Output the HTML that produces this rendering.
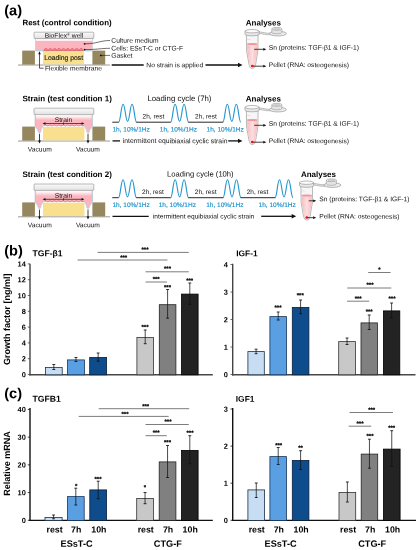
<!DOCTYPE html>
<html lang="en"><head><meta charset="utf-8"><title>Figure</title>
<style>html,body{margin:0;padding:0;background:#fff}svg{display:block}text{font-family:'Liberation Sans', Arial, sans-serif;text-rendering:geometricPrecision}</style>
</head><body>
<svg width="420" height="550" viewBox="0 0 420 550">
<defs>
<linearGradient id="lidg" x1="0" y1="0" x2="0" y2="1"><stop offset="0" stop-color="#fafafa"/><stop offset="1" stop-color="#e2e2e2"/></linearGradient>
<linearGradient id="liq" x1="0" y1="0" x2="1" y2="0"><stop offset="0" stop-color="#f9bcbf"/><stop offset="0.5" stop-color="#fddfe0"/><stop offset="1" stop-color="#f9bcbf"/></linearGradient>
<linearGradient id="pinkg" x1="0" y1="0" x2="0" y2="1"><stop offset="0" stop-color="#ffffff"/><stop offset="0.1" stop-color="#fff3f4"/><stop offset="0.32" stop-color="#fbb5be"/><stop offset="1" stop-color="#fbb5be"/></linearGradient>
</defs>
<rect width="420" height="550" fill="#fff"/>
<text x="4.2" y="15.3" transform="rotate(0.04 4.2 15.3)" font-size="14.6" font-weight="bold" fill="#000">(a)</text>
<text x="4.2" y="255.5" transform="rotate(0.04 4.2 255.5)" font-size="14.6" font-weight="bold" fill="#000">(b)</text>
<text x="4.2" y="398.2" transform="rotate(0.04 4.2 398.2)" font-size="14.6" font-weight="bold" fill="#000">(c)</text>
<text x="22.5" y="25.2" transform="rotate(0.04 22.5 25.2)" font-size="7.92" font-weight="bold" fill="#000">Rest (control condition)</text>
<line x1="18" y1="65" x2="110" y2="65" stroke="#9a9a9a" stroke-width="1"/>
<rect x="22.20" y="50.60" width="12.70" height="14.00" fill="#96875f"/>
<rect x="92.40" y="50.60" width="12.80" height="14.00" fill="#96875f"/>
<rect x="43.00" y="51.30" width="41.00" height="13.00" fill="#f8e08e"/>
<rect x="35.30" y="38.50" width="57.00" height="12.00" fill="#ffffff" stroke="#b0b0b0" stroke-width="0.5"/>
<rect x="35.60" y="40.80" width="56.40" height="9.70" fill="#fbb5be"/>
<line x1="35.3" y1="50.8" x2="92.3" y2="50.8" stroke="#9fd0ea" stroke-width="0.8"/>
<path d="M43.7 50.5 q2.2 -4.4 4.4 0 q2.2 -4.4 4.4 0 q2.2 -4.4 4.4 0 q2.2 -4.4 4.4 0 q2.2 -4.4 4.4 0 q2.2 -4.4 4.4 0 q2.2 -4.4 4.4 0 q2.2 -4.4 4.4 0 q2.2 -4.4 4.4 0 Z" fill="#f0858b" stroke="#e4505a" stroke-width="0.6" stroke-linejoin="round"/>
<rect x="34" y="32.2" width="59.8" height="6.4" rx="0.8" fill="url(#lidg)" stroke="#8c8c8c" stroke-width="0.6"/>
<text x="64" y="37.8" transform="rotate(0.04 64 37.8)" font-size="6.7" text-anchor="middle" fill="#111">BioFlex<tspan font-size="4" dy="-2.2">®</tspan><tspan dy="2.2"> well</tspan></text>
<text x="63.6" y="60.1" transform="rotate(0.04 63.6 60.1)" font-size="6.8" text-anchor="middle" fill="#1a1a1a" stroke="#1a1a1a" stroke-width="0.12">Loading post</text>
<path d="M39.5 53.5 V68.2 H43.5" fill="none" stroke="#111" stroke-width="0.7"/>
<path d="M39.5 51.3 L38.2 54.3 L40.8 54.3 Z" fill="#111"/>
<text x="45" y="70.4" transform="rotate(0.04 45 70.4)" font-size="6.7" fill="#111">Flexible membrane</text>
<text x="111.3" y="42.8" transform="rotate(0.04 111.3 42.8)" font-size="6.7" fill="#111">Culture medium</text>
<text x="111.3" y="50.4" transform="rotate(0.04 111.3 50.4)" font-size="6.7" fill="#111">Cells: ESsT-C or CTG-F</text>
<text x="111.3" y="57.8" transform="rotate(0.04 111.3 57.8)" font-size="6.7" fill="#111">Gasket</text>
<path d="M110 40.5 C100 40.5 97 43.8 85 43.8" fill="none" stroke="#111" stroke-width="0.6"/>
<circle cx="84.6" cy="43.8" r="0.9" fill="#111"/>
<path d="M110 48.3 C101 48.3 97 49.6 85 49.6" fill="none" stroke="#111" stroke-width="0.6"/>
<circle cx="84.6" cy="49.6" r="0.9" fill="#111"/>
<path d="M110 55.4 H101" fill="none" stroke="#111" stroke-width="0.6"/>
<circle cx="100.8" cy="55.4" r="0.9" fill="#111"/>
<line x1="111.7" y1="65" x2="143.7" y2="65" stroke="#111" stroke-width="1.3"/>
<text x="146.3" y="67.2" transform="rotate(0.04 146.3 67.2)" font-size="6.7" fill="#111">No strain is applied</text>
<line x1="205.5" y1="65" x2="238.5" y2="65" stroke="#111" stroke-width="1.3"/>
<path d="M242.5 65 L238.0 62.8 L238.0 67.2 Z" fill="#111"/>
<g transform="translate(0 0)">
<path d="M258.6 31.8 C263 32.2 266 33.5 270.4 33.2 L270.4 34.8 C266 35 263 33.8 258.6 33.4 Z" fill="#e6e6e6" stroke="#8a8a8a" stroke-width="0.5"/>
<ellipse cx="277.9" cy="33.6" rx="8.5" ry="2.35" fill="#ececec" stroke="#8a8a8a" stroke-width="0.6"/>
<path d="M271.8 28.8 V32.4 A5.05 1.5 0 0 0 281.9 32.4 V28.8 Z" fill="#e4e4e4" stroke="#8a8a8a" stroke-width="0.5"/>
<ellipse cx="276.85" cy="28.8" rx="5.05" ry="1.45" fill="#f4f4f4" stroke="#8a8a8a" stroke-width="0.5"/>
<ellipse cx="276.85" cy="28.9" rx="3.3" ry="0.75" fill="#dcdcdc" stroke="#9a9a9a" stroke-width="0.35"/>
<path d="M246.4 34 L246.6 51 L249 64.6 Q249.7 68.7 252.3 68.7 Q254.9 68.7 255.6 64.6 L257.9 51 L258.1 34 Z" fill="#f6f6f6" stroke="#9d9d9d" stroke-width="0.7"/>
<path d="M247.1 43.8 L247.2 51 L249.6 64.5 Q250.2 68.1 252.3 68.1 Q254.4 68.1 255 64.5 L257.3 51 L257.4 43.8 Z" fill="url(#liq)"/>
<ellipse cx="252.25" cy="44" rx="5.15" ry="1" fill="#f3959a"/>
<path d="M247.3 39.5 h3 M247.3 47.5 h2.6 M247.8 53.5 h2.2" stroke="#c4c4c4" stroke-width="0.4"/>
<path d="M245 31.2 V34.2 A7.05 1.6 0 0 0 259.1 34.2 V31.2 Z" fill="#e9e9e9" stroke="#8a8a8a" stroke-width="0.6"/>
<ellipse cx="252.05" cy="31.2" rx="7.05" ry="1.7" fill="#fbfbfb" stroke="#8a8a8a" stroke-width="0.6"/>
<circle cx="252.3" cy="66" r="1.35" fill="#e3141c"/>
<line x1="254.2" y1="49.3" x2="264.0" y2="49.3" stroke="#111" stroke-width="0.8"/>
<path d="M266.3 49.3 L263.3 47.9 L263.3 50.699999999999996 Z" fill="#111"/>
<line x1="253.2" y1="66.2" x2="264.0" y2="66.2" stroke="#111" stroke-width="0.8"/>
<path d="M266.3 66.2 L263.3 64.8 L263.3 67.60000000000001 Z" fill="#111"/>
<text x="268.7" y="49.8" transform="rotate(0.04 268.7 49.8)" font-size="6.7" fill="#111">Sn (proteins: TGF-β1 &amp; IGF-1)</text>
<text x="268.7" y="67.1" transform="rotate(0.04 268.7 67.1)" font-size="6.7" fill="#111">Pellet (RNA: osteogenesis)</text>
<text x="245.8" y="25.5" transform="rotate(0.04 245.8 25.5)" font-size="8" font-weight="bold" fill="#000">Analyses</text>
</g>
<text x="22.5" y="101.2" transform="rotate(0.04 22.5 101.2)" font-size="8" font-weight="bold" fill="#000">Strain (test condition 1)</text>
<line x1="18" y1="141.0" x2="110" y2="141.0" stroke="#9a9a9a" stroke-width="1"/>
<rect x="22.20" y="126.60" width="12.70" height="14.00" fill="#96875f"/>
<rect x="92.40" y="126.60" width="12.80" height="14.00" fill="#96875f"/>
<rect x="43.00" y="126.90" width="41.40" height="13.40" fill="#f8e08e"/>
<path d="M35.4 114.4 L92.1 114.4 L92.1 126.30 C92 128.50 90 128.80 89.5 131.00 C89.1 133.70 87 133.70 86.6 131.00 C86.2 128.80 85.3 127.80 84.6 126.60 Q84.3 125.60 83.2 125.60 L44.3 125.60 Q43.2 125.60 42.9 126.60 C42.2 127.80 41.3 128.80 40.9 131.00 C40.5 133.70 38.4 133.70 38 131.00 C37.5 128.80 35.5 128.50 35.4 126.30 Z" fill="url(#pinkg)" stroke="#a9d9ef" stroke-width="0.8"/>
<rect x="35.00" y="113.90" width="57.50" height="1.20" fill="#ffffff"/>
<line x1="35.2" y1="114.4" x2="35.2" y2="126.3" stroke="#a8a8a8" stroke-width="0.5"/>
<line x1="92.3" y1="114.4" x2="92.3" y2="126.3" stroke="#a8a8a8" stroke-width="0.5"/>
<path d="M44.5 125.50 q1.1 -1.3 2.2 0 q1.1 0.9 2.2 0 q1.1 -1.3 2.2 0 q1.1 0.9 2.2 0 q1.1 -1.3 2.2 0 q1.1 0.9 2.2 0 q1.1 -1.3 2.2 0 q1.1 0.9 2.2 0 q1.1 -1.3 2.2 0 q1.1 0.9 2.2 0 q1.1 -1.3 2.2 0 q1.1 0.9 2.2 0 q1.1 -1.3 2.2 0 q1.1 0.9 2.2 0 q1.1 -1.3 2.2 0 q1.1 0.9 2.2 0 q1.1 -1.3 2.2 0 q1.1 0.9 2.2 0" fill="none" stroke="#ea4a55" stroke-width="0.6"/>
<rect x="34" y="108.2" width="59.8" height="6.4" rx="0.8" fill="url(#lidg)" stroke="#8c8c8c" stroke-width="0.6"/>
<text x="63.5" y="121.9" transform="rotate(0.04 63.5 121.9)" font-size="6.7" text-anchor="middle" fill="#111">Strain</text>
<line x1="44" y1="123.5" x2="83" y2="123.5" stroke="#111" stroke-width="0.7"/>
<path d="M42.6 123.5 L45.4 122.2 L45.4 124.8 Z M84.4 123.5 L81.6 122.2 L81.6 124.8 Z" fill="#111"/>
<path d="M63.5 122.3 V124.7" stroke="#111" stroke-width="0.6"/>
<line x1="39.5" y1="133.8" x2="39.5" y2="141.5" stroke="#111" stroke-width="0.8"/>
<path d="M39.5 143.6 L38.1 140.6 L40.9 140.6 Z" fill="#111"/>
<line x1="88" y1="133.8" x2="88" y2="141.5" stroke="#111" stroke-width="0.8"/>
<path d="M88 143.6 L86.6 140.6 L89.4 140.6 Z" fill="#111"/>
<text x="39.8" y="151.5" transform="rotate(0.04 39.8 151.5)" font-size="6.7" text-anchor="middle" fill="#111">Vacuum</text>
<text x="87.9" y="151.5" transform="rotate(0.04 87.9 151.5)" font-size="6.7" text-anchor="middle" fill="#111">Vacuum</text>
<line x1="112.3" y1="122.2" x2="118.89999999999999" y2="122.2" stroke="#111" stroke-width="0.9"/>
<path d="M118.60 122.20 C120.65 122.20 121.05 104.20 123.10 104.20 C125.15 104.20 125.55 121.30 127.60 121.30 C129.65 121.30 130.05 104.20 132.10 104.20 C134.15 104.20 134.55 122.20 136.60 122.20" fill="none" stroke="#2597cf" stroke-width="1.15" stroke-linejoin="round"/>
<line x1="136.29999999999998" y1="122.2" x2="170.9" y2="122.2" stroke="#111" stroke-width="0.9"/>
<path d="M170.60 122.20 C172.65 122.20 173.05 104.20 175.10 104.20 C177.15 104.20 177.55 121.30 179.60 121.30 C181.65 121.30 182.05 104.20 184.10 104.20 C186.15 104.20 186.55 122.20 188.60 122.20" fill="none" stroke="#2597cf" stroke-width="1.15" stroke-linejoin="round"/>
<line x1="188.29999999999998" y1="122.2" x2="223.10000000000002" y2="122.2" stroke="#111" stroke-width="0.9"/>
<path d="M222.80 122.20 C224.85 122.20 225.25 104.20 227.30 104.20 C229.35 104.20 229.75 121.30 231.80 121.30 C233.85 121.30 234.25 104.20 236.30 104.20 C238.35 104.20 238.75 122.20 240.80 122.20" fill="none" stroke="#2597cf" stroke-width="1.15" stroke-linejoin="round"/>
<text x="147.4" y="100.9" transform="rotate(0.04 147.4 100.9)" font-size="7.85" fill="#111">Loading cycle (7h)</text>
<text x="153.4" y="118.4" transform="rotate(0.04 153.4 118.4)" font-size="6.5" text-anchor="middle" fill="#111">2h, rest</text>
<text x="205.9" y="118.4" transform="rotate(0.04 205.9 118.4)" font-size="6.5" text-anchor="middle" fill="#111">2h, rest</text>
<text x="112.5" y="131.6" transform="rotate(0.04 112.5 131.6)" font-size="6.5" fill="#1b8fca" stroke="#1b8fca" stroke-width="0.15">1h, 10%/1Hz</text>
<text x="159.8" y="131.6" transform="rotate(0.04 159.8 131.6)" font-size="6.5" fill="#1b8fca" stroke="#1b8fca" stroke-width="0.15">1h, 10%/1Hz</text>
<text x="206.6" y="131.6" transform="rotate(0.04 206.6 131.6)" font-size="6.5" fill="#1b8fca" stroke="#1b8fca" stroke-width="0.15">1h, 10%/1Hz</text>
<line x1="112.5" y1="140.9" x2="120" y2="140.9" stroke="#111" stroke-width="1.3"/>
<text x="122.8" y="143.1" transform="rotate(0.04 122.8 143.1)" font-size="6.8" fill="#111">intermittent equibiaxial cyclic strain</text>
<line x1="228.2" y1="140.9" x2="238.5" y2="140.9" stroke="#111" stroke-width="1.3"/>
<path d="M242.5 140.9 L238.0 138.70000000000002 L238.0 143.1 Z" fill="#111"/>
<g transform="translate(0 76.0)">
<path d="M258.6 31.8 C263 32.2 266 33.5 270.4 33.2 L270.4 34.8 C266 35 263 33.8 258.6 33.4 Z" fill="#e6e6e6" stroke="#8a8a8a" stroke-width="0.5"/>
<ellipse cx="277.9" cy="33.6" rx="8.5" ry="2.35" fill="#ececec" stroke="#8a8a8a" stroke-width="0.6"/>
<path d="M271.8 28.8 V32.4 A5.05 1.5 0 0 0 281.9 32.4 V28.8 Z" fill="#e4e4e4" stroke="#8a8a8a" stroke-width="0.5"/>
<ellipse cx="276.85" cy="28.8" rx="5.05" ry="1.45" fill="#f4f4f4" stroke="#8a8a8a" stroke-width="0.5"/>
<ellipse cx="276.85" cy="28.9" rx="3.3" ry="0.75" fill="#dcdcdc" stroke="#9a9a9a" stroke-width="0.35"/>
<path d="M246.4 34 L246.6 51 L249 64.6 Q249.7 68.7 252.3 68.7 Q254.9 68.7 255.6 64.6 L257.9 51 L258.1 34 Z" fill="#f6f6f6" stroke="#9d9d9d" stroke-width="0.7"/>
<path d="M247.1 43.8 L247.2 51 L249.6 64.5 Q250.2 68.1 252.3 68.1 Q254.4 68.1 255 64.5 L257.3 51 L257.4 43.8 Z" fill="url(#liq)"/>
<ellipse cx="252.25" cy="44" rx="5.15" ry="1" fill="#f3959a"/>
<path d="M247.3 39.5 h3 M247.3 47.5 h2.6 M247.8 53.5 h2.2" stroke="#c4c4c4" stroke-width="0.4"/>
<path d="M245 31.2 V34.2 A7.05 1.6 0 0 0 259.1 34.2 V31.2 Z" fill="#e9e9e9" stroke="#8a8a8a" stroke-width="0.6"/>
<ellipse cx="252.05" cy="31.2" rx="7.05" ry="1.7" fill="#fbfbfb" stroke="#8a8a8a" stroke-width="0.6"/>
<circle cx="252.3" cy="66" r="1.35" fill="#e3141c"/>
<line x1="254.2" y1="49.3" x2="264.0" y2="49.3" stroke="#111" stroke-width="0.8"/>
<path d="M266.3 49.3 L263.3 47.9 L263.3 50.699999999999996 Z" fill="#111"/>
<line x1="253.2" y1="66.2" x2="264.0" y2="66.2" stroke="#111" stroke-width="0.8"/>
<path d="M266.3 66.2 L263.3 64.8 L263.3 67.60000000000001 Z" fill="#111"/>
<text x="268.7" y="49.8" transform="rotate(0.04 268.7 49.8)" font-size="6.7" fill="#111">Sn (proteins: TGF-β1 &amp; IGF-1)</text>
<text x="268.7" y="67.1" transform="rotate(0.04 268.7 67.1)" font-size="6.7" fill="#111">Pellet (RNA: osteogenesis)</text>
<text x="245.8" y="25.5" transform="rotate(0.04 245.8 25.5)" font-size="8" font-weight="bold" fill="#000">Analyses</text>
</g>
<text x="22.5" y="176.9" transform="rotate(0.04 22.5 176.9)" font-size="8" font-weight="bold" fill="#000">Strain (test condition 2)</text>
<line x1="18" y1="216.8" x2="110" y2="216.8" stroke="#9a9a9a" stroke-width="1"/>
<rect x="22.20" y="202.40" width="12.70" height="14.00" fill="#96875f"/>
<rect x="92.40" y="202.40" width="12.80" height="14.00" fill="#96875f"/>
<rect x="43.00" y="202.70" width="41.40" height="13.40" fill="#f8e08e"/>
<path d="M35.4 190.20000000000002 L92.1 190.20000000000002 L92.1 202.10 C92 204.30 90 204.60 89.5 206.80 C89.1 209.50 87 209.50 86.6 206.80 C86.2 204.60 85.3 203.60 84.6 202.40 Q84.3 201.40 83.2 201.40 L44.3 201.40 Q43.2 201.40 42.9 202.40 C42.2 203.60 41.3 204.60 40.9 206.80 C40.5 209.50 38.4 209.50 38 206.80 C37.5 204.60 35.5 204.30 35.4 202.10 Z" fill="url(#pinkg)" stroke="#a9d9ef" stroke-width="0.8"/>
<rect x="35.00" y="189.70" width="57.50" height="1.20" fill="#ffffff"/>
<line x1="35.2" y1="190.20000000000002" x2="35.2" y2="202.10000000000002" stroke="#a8a8a8" stroke-width="0.5"/>
<line x1="92.3" y1="190.20000000000002" x2="92.3" y2="202.10000000000002" stroke="#a8a8a8" stroke-width="0.5"/>
<path d="M44.5 201.30 q1.1 -1.3 2.2 0 q1.1 0.9 2.2 0 q1.1 -1.3 2.2 0 q1.1 0.9 2.2 0 q1.1 -1.3 2.2 0 q1.1 0.9 2.2 0 q1.1 -1.3 2.2 0 q1.1 0.9 2.2 0 q1.1 -1.3 2.2 0 q1.1 0.9 2.2 0 q1.1 -1.3 2.2 0 q1.1 0.9 2.2 0 q1.1 -1.3 2.2 0 q1.1 0.9 2.2 0 q1.1 -1.3 2.2 0 q1.1 0.9 2.2 0 q1.1 -1.3 2.2 0 q1.1 0.9 2.2 0" fill="none" stroke="#ea4a55" stroke-width="0.6"/>
<rect x="34" y="184.0" width="59.8" height="6.4" rx="0.8" fill="url(#lidg)" stroke="#8c8c8c" stroke-width="0.6"/>
<text x="63.5" y="197.70000000000002" transform="rotate(0.04 63.5 197.70000000000002)" font-size="6.7" text-anchor="middle" fill="#111">Strain</text>
<line x1="44" y1="199.3" x2="83" y2="199.3" stroke="#111" stroke-width="0.7"/>
<path d="M42.6 199.3 L45.4 198.0 L45.4 200.60000000000002 Z M84.4 199.3 L81.6 198.0 L81.6 200.60000000000002 Z" fill="#111"/>
<path d="M63.5 198.10000000000002 V200.5" stroke="#111" stroke-width="0.6"/>
<line x1="39.5" y1="209.60000000000002" x2="39.5" y2="217.3" stroke="#111" stroke-width="0.8"/>
<path d="M39.5 219.4 L38.1 216.4 L40.9 216.4 Z" fill="#111"/>
<line x1="88" y1="209.60000000000002" x2="88" y2="217.3" stroke="#111" stroke-width="0.8"/>
<path d="M88 219.4 L86.6 216.4 L89.4 216.4 Z" fill="#111"/>
<text x="39.8" y="227.3" transform="rotate(0.04 39.8 227.3)" font-size="6.7" text-anchor="middle" fill="#111">Vacuum</text>
<text x="87.9" y="227.3" transform="rotate(0.04 87.9 227.3)" font-size="6.7" text-anchor="middle" fill="#111">Vacuum</text>
<line x1="112.3" y1="197.7" x2="118.8" y2="197.7" stroke="#111" stroke-width="0.9"/>
<path d="M118.50 197.70 C120.55 197.70 120.95 179.70 123.00 179.70 C125.05 179.70 125.45 196.80 127.50 196.80 C129.55 196.80 129.95 179.70 132.00 179.70 C134.05 179.70 134.45 197.70 136.50 197.70" fill="none" stroke="#2597cf" stroke-width="1.15" stroke-linejoin="round"/>
<line x1="136.2" y1="197.7" x2="170.9" y2="197.7" stroke="#111" stroke-width="0.9"/>
<path d="M170.60 197.70 C172.65 197.70 173.05 179.70 175.10 179.70 C177.15 179.70 177.55 196.80 179.60 196.80 C181.65 196.80 182.05 179.70 184.10 179.70 C186.15 179.70 186.55 197.70 188.60 197.70" fill="none" stroke="#2597cf" stroke-width="1.15" stroke-linejoin="round"/>
<line x1="188.29999999999998" y1="197.7" x2="223.3" y2="197.7" stroke="#111" stroke-width="0.9"/>
<path d="M223.00 197.70 C225.05 197.70 225.45 179.70 227.50 179.70 C229.55 179.70 229.95 196.80 232.00 196.80 C234.05 196.80 234.45 179.70 236.50 179.70 C238.55 179.70 238.95 197.70 241.00 197.70" fill="none" stroke="#2597cf" stroke-width="1.15" stroke-linejoin="round"/>
<line x1="240.7" y1="197.7" x2="275.3" y2="197.7" stroke="#111" stroke-width="0.9"/>
<path d="M275.00 197.70 C277.05 197.70 277.45 179.70 279.50 179.70 C281.55 179.70 281.95 196.80 284.00 196.80 C286.05 196.80 286.45 179.70 288.50 179.70 C290.55 179.70 290.95 197.70 293.00 197.70" fill="none" stroke="#2597cf" stroke-width="1.15" stroke-linejoin="round"/>
<text x="167.1" y="176.4" transform="rotate(0.04 167.1 176.4)" font-size="7.63" fill="#111">Loading cycle (10h)</text>
<text x="152.9" y="193.9" transform="rotate(0.04 152.9 193.9)" font-size="6.5" text-anchor="middle" fill="#111">2h, rest</text>
<text x="205.7" y="193.9" transform="rotate(0.04 205.7 193.9)" font-size="6.5" text-anchor="middle" fill="#111">2h, rest</text>
<text x="257.5" y="193.9" transform="rotate(0.04 257.5 193.9)" font-size="6.5" text-anchor="middle" fill="#111">2h, rest</text>
<text x="112.5" y="207.1" transform="rotate(0.04 112.5 207.1)" font-size="6.5" fill="#1b8fca" stroke="#1b8fca" stroke-width="0.15">1h, 10%/1Hz</text>
<text x="158.7" y="207.1" transform="rotate(0.04 158.7 207.1)" font-size="6.5" fill="#1b8fca" stroke="#1b8fca" stroke-width="0.15">1h, 10%/1Hz</text>
<text x="206.2" y="207.1" transform="rotate(0.04 206.2 207.1)" font-size="6.5" fill="#1b8fca" stroke="#1b8fca" stroke-width="0.15">1h, 10%/1Hz</text>
<text x="258.6" y="207.1" transform="rotate(0.04 258.6 207.1)" font-size="6.5" fill="#1b8fca" stroke="#1b8fca" stroke-width="0.15">1h, 10%/1Hz</text>
<line x1="112.5" y1="216.3" x2="148.7" y2="216.3" stroke="#111" stroke-width="1.3"/>
<text x="152.9" y="218.5" transform="rotate(0.04 152.9 218.5)" font-size="6.6" fill="#111">intermittent equibiaxial cyclic strain</text>
<line x1="261.2" y1="216.3" x2="292.2" y2="216.3" stroke="#111" stroke-width="1.3"/>
<path d="M296.2 216.3 L291.7 214.10000000000002 L291.7 218.5 Z" fill="#111"/>
<g transform="translate(54.5 151.5)">
<path d="M258.6 31.8 C263 32.2 266 33.5 270.4 33.2 L270.4 34.8 C266 35 263 33.8 258.6 33.4 Z" fill="#e6e6e6" stroke="#8a8a8a" stroke-width="0.5"/>
<ellipse cx="277.9" cy="33.6" rx="8.5" ry="2.35" fill="#ececec" stroke="#8a8a8a" stroke-width="0.6"/>
<path d="M271.8 28.8 V32.4 A5.05 1.5 0 0 0 281.9 32.4 V28.8 Z" fill="#e4e4e4" stroke="#8a8a8a" stroke-width="0.5"/>
<ellipse cx="276.85" cy="28.8" rx="5.05" ry="1.45" fill="#f4f4f4" stroke="#8a8a8a" stroke-width="0.5"/>
<ellipse cx="276.85" cy="28.9" rx="3.3" ry="0.75" fill="#dcdcdc" stroke="#9a9a9a" stroke-width="0.35"/>
<path d="M246.4 34 L246.6 51 L249 64.6 Q249.7 68.7 252.3 68.7 Q254.9 68.7 255.6 64.6 L257.9 51 L258.1 34 Z" fill="#f6f6f6" stroke="#9d9d9d" stroke-width="0.7"/>
<path d="M247.1 43.8 L247.2 51 L249.6 64.5 Q250.2 68.1 252.3 68.1 Q254.4 68.1 255 64.5 L257.3 51 L257.4 43.8 Z" fill="url(#liq)"/>
<ellipse cx="252.25" cy="44" rx="5.15" ry="1" fill="#f3959a"/>
<path d="M247.3 39.5 h3 M247.3 47.5 h2.6 M247.8 53.5 h2.2" stroke="#c4c4c4" stroke-width="0.4"/>
<path d="M245 31.2 V34.2 A7.05 1.6 0 0 0 259.1 34.2 V31.2 Z" fill="#e9e9e9" stroke="#8a8a8a" stroke-width="0.6"/>
<ellipse cx="252.05" cy="31.2" rx="7.05" ry="1.7" fill="#fbfbfb" stroke="#8a8a8a" stroke-width="0.6"/>
<circle cx="252.3" cy="66" r="1.35" fill="#e3141c"/>
<line x1="254.2" y1="49.3" x2="259.4" y2="49.3" stroke="#111" stroke-width="0.8"/>
<path d="M261.7 49.3 L258.7 47.9 L258.7 50.699999999999996 Z" fill="#111"/>
<line x1="253.2" y1="66.2" x2="259.4" y2="66.2" stroke="#111" stroke-width="0.8"/>
<path d="M261.7 66.2 L258.7 64.8 L258.7 67.60000000000001 Z" fill="#111"/>
<text x="264.7" y="49.8" transform="rotate(0.04 264.7 49.8)" font-size="6.7" fill="#111">Sn (proteins: TGF-β1 &amp; IGF-1)</text>
<text x="264.7" y="67.1" transform="rotate(0.04 264.7 67.1)" font-size="6.7" fill="#111">Pellet (RNA: osteogenesis)</text>
<text x="246.4" y="25.5" transform="rotate(0.04 246.4 25.5)" font-size="8" font-weight="bold" fill="#000">Analyses</text>
</g>
<text x="32.5" y="256.3" transform="rotate(0.04 32.5 256.3)" font-size="8.6" font-weight="bold" fill="#000">TGF-β1</text>
<line x1="30" y1="263.8" x2="30" y2="375.5" stroke="#444" stroke-width="1.4"/>
<line x1="27.8" y1="374.5" x2="30" y2="374.5" stroke="#444" stroke-width="0.8"/>
<text x="25.8" y="377.15" transform="rotate(0.04 25.8 377.15)" font-size="7.4" font-weight="bold" text-anchor="end" fill="#000">0</text>
<line x1="27.8" y1="358.7" x2="30" y2="358.7" stroke="#444" stroke-width="0.8"/>
<text x="25.8" y="361.34999999999997" transform="rotate(0.04 25.8 361.34999999999997)" font-size="7.4" font-weight="bold" text-anchor="end" fill="#000">2</text>
<line x1="27.8" y1="342.9" x2="30" y2="342.9" stroke="#444" stroke-width="0.8"/>
<text x="25.8" y="345.54999999999995" transform="rotate(0.04 25.8 345.54999999999995)" font-size="7.4" font-weight="bold" text-anchor="end" fill="#000">4</text>
<line x1="27.8" y1="327.1" x2="30" y2="327.1" stroke="#444" stroke-width="0.8"/>
<text x="25.8" y="329.75" transform="rotate(0.04 25.8 329.75)" font-size="7.4" font-weight="bold" text-anchor="end" fill="#000">6</text>
<line x1="27.8" y1="311.3" x2="30" y2="311.3" stroke="#444" stroke-width="0.8"/>
<text x="25.8" y="313.95" transform="rotate(0.04 25.8 313.95)" font-size="7.4" font-weight="bold" text-anchor="end" fill="#000">8</text>
<line x1="27.8" y1="295.5" x2="30" y2="295.5" stroke="#444" stroke-width="0.8"/>
<text x="25.8" y="298.15" transform="rotate(0.04 25.8 298.15)" font-size="7.4" font-weight="bold" text-anchor="end" fill="#000">10</text>
<line x1="27.8" y1="279.7" x2="30" y2="279.7" stroke="#444" stroke-width="0.8"/>
<text x="25.8" y="282.34999999999997" transform="rotate(0.04 25.8 282.34999999999997)" font-size="7.4" font-weight="bold" text-anchor="end" fill="#000">12</text>
<line x1="27.8" y1="263.9" x2="30" y2="263.9" stroke="#444" stroke-width="0.8"/>
<text x="25.8" y="266.54999999999995" transform="rotate(0.04 25.8 266.54999999999995)" font-size="7.4" font-weight="bold" text-anchor="end" fill="#000">14</text>
<line x1="29.3" y1="374.8" x2="212.8" y2="374.8" stroke="#484848" stroke-width="1.4"/>
<rect x="45.40" y="367.40" width="16.80" height="7.40" fill="#c7ddf3" stroke="#1f2f44" stroke-width="0.8"/>
<line x1="53.8" y1="364.5" x2="53.8" y2="369.5" stroke="#111" stroke-width="0.75"/>
<line x1="52.349999999999994" y1="364.5" x2="55.25" y2="364.5" stroke="#111" stroke-width="0.85"/>
<line x1="52.349999999999994" y1="369.5" x2="55.25" y2="369.5" stroke="#111" stroke-width="0.85"/>
<rect x="67.50" y="359.90" width="16.90" height="14.90" fill="#5a9fe2" stroke="#17365c" stroke-width="0.8"/>
<line x1="75.94999999999999" y1="357.5" x2="75.94999999999999" y2="361.5" stroke="#111" stroke-width="0.75"/>
<line x1="74.49999999999999" y1="357.5" x2="77.39999999999999" y2="357.5" stroke="#111" stroke-width="0.85"/>
<line x1="74.49999999999999" y1="361.5" x2="77.39999999999999" y2="361.5" stroke="#111" stroke-width="0.85"/>
<rect x="89.70" y="357.40" width="16.90" height="17.40" fill="#0f4c8c" stroke="#06203f" stroke-width="0.8"/>
<line x1="98.15" y1="353" x2="98.15" y2="361.2" stroke="#111" stroke-width="0.75"/>
<line x1="96.7" y1="353" x2="99.60000000000001" y2="353" stroke="#111" stroke-width="0.85"/>
<line x1="96.7" y1="361.2" x2="99.60000000000001" y2="361.2" stroke="#111" stroke-width="0.85"/>
<rect x="136.90" y="337.40" width="16.60" height="37.40" fill="#c8c8c8" stroke="#333" stroke-width="0.8"/>
<line x1="145.2" y1="330" x2="145.2" y2="343.7" stroke="#111" stroke-width="0.75"/>
<line x1="143.75" y1="330" x2="146.64999999999998" y2="330" stroke="#111" stroke-width="0.85"/>
<line x1="143.75" y1="343.7" x2="146.64999999999998" y2="343.7" stroke="#111" stroke-width="0.85"/>
<rect x="159.30" y="304.70" width="16.60" height="70.10" fill="#808080" stroke="#222" stroke-width="0.8"/>
<line x1="167.60000000000002" y1="289.5" x2="167.60000000000002" y2="318.2" stroke="#111" stroke-width="0.75"/>
<line x1="166.15000000000003" y1="289.5" x2="169.05" y2="289.5" stroke="#111" stroke-width="0.85"/>
<line x1="166.15000000000003" y1="318.2" x2="169.05" y2="318.2" stroke="#111" stroke-width="0.85"/>
<rect x="181.50" y="294.10" width="16.60" height="80.70" fill="#232323" stroke="#000" stroke-width="0.8"/>
<line x1="189.8" y1="283" x2="189.8" y2="304.3" stroke="#111" stroke-width="0.75"/>
<line x1="188.35000000000002" y1="283" x2="191.25" y2="283" stroke="#111" stroke-width="0.85"/>
<line x1="188.35000000000002" y1="304.3" x2="191.25" y2="304.3" stroke="#111" stroke-width="0.85"/>
<line x1="97.5" y1="252.4" x2="188.8" y2="252.4" stroke="#7d7d7d" stroke-width="1"/>
<text x="145" y="251.6" transform="rotate(0.04 145 251.6)" font-size="6" font-weight="bold" text-anchor="middle" fill="#000" stroke="#000" stroke-width="0.25">***</text>
<line x1="77.5" y1="260" x2="167.5" y2="260" stroke="#7d7d7d" stroke-width="1"/>
<text x="123.7" y="259.6" transform="rotate(0.04 123.7 259.6)" font-size="6" font-weight="bold" text-anchor="middle" fill="#000" stroke="#000" stroke-width="0.25">***</text>
<line x1="145.5" y1="271.8" x2="188.8" y2="271.8" stroke="#7d7d7d" stroke-width="1"/>
<text x="167.5" y="270.6" transform="rotate(0.04 167.5 270.6)" font-size="6" font-weight="bold" text-anchor="middle" fill="#000" stroke="#000" stroke-width="0.25">***</text>
<line x1="145.5" y1="282" x2="167" y2="282" stroke="#7d7d7d" stroke-width="1"/>
<text x="156.2" y="281.0" transform="rotate(0.04 156.2 281.0)" font-size="6" font-weight="bold" text-anchor="middle" fill="#000" stroke="#000" stroke-width="0.25">***</text>
<text x="145" y="329.0" transform="rotate(0.04 145 329.0)" font-size="6" font-weight="bold" text-anchor="middle" fill="#000" stroke="#000" stroke-width="0.25">***</text>
<text x="167.5" y="289.2" transform="rotate(0.04 167.5 289.2)" font-size="6" font-weight="bold" text-anchor="middle" fill="#000" stroke="#000" stroke-width="0.25">***</text>
<text x="189.7" y="282.5" transform="rotate(0.04 189.7 282.5)" font-size="6" font-weight="bold" text-anchor="middle" fill="#000" stroke="#000" stroke-width="0.25">***</text>
<text transform="translate(10 319.3) rotate(-90)" font-size="9" font-weight="bold" text-anchor="middle" fill="#000">Growth factor [ng/ml]</text>
<text x="236.2" y="256.3" transform="rotate(0.04 236.2 256.3)" font-size="8.4" font-weight="bold" fill="#000">IGF-1</text>
<line x1="232.7" y1="263.8" x2="232.7" y2="375.5" stroke="#444" stroke-width="1.4"/>
<line x1="230.5" y1="374.5" x2="232.7" y2="374.5" stroke="#444" stroke-width="0.8"/>
<text x="227.89999999999998" y="377.15" transform="rotate(0.04 227.89999999999998 377.15)" font-size="7.4" font-weight="bold" text-anchor="end" fill="#000">0</text>
<line x1="230.5" y1="347.0" x2="232.7" y2="347.0" stroke="#444" stroke-width="0.8"/>
<text x="227.89999999999998" y="349.65" transform="rotate(0.04 227.89999999999998 349.65)" font-size="7.4" font-weight="bold" text-anchor="end" fill="#000">1</text>
<line x1="230.5" y1="319.5" x2="232.7" y2="319.5" stroke="#444" stroke-width="0.8"/>
<text x="227.89999999999998" y="322.15" transform="rotate(0.04 227.89999999999998 322.15)" font-size="7.4" font-weight="bold" text-anchor="end" fill="#000">2</text>
<line x1="230.5" y1="292.0" x2="232.7" y2="292.0" stroke="#444" stroke-width="0.8"/>
<text x="227.89999999999998" y="294.65" transform="rotate(0.04 227.89999999999998 294.65)" font-size="7.4" font-weight="bold" text-anchor="end" fill="#000">3</text>
<line x1="230.5" y1="264.5" x2="232.7" y2="264.5" stroke="#444" stroke-width="0.8"/>
<text x="227.89999999999998" y="267.15" transform="rotate(0.04 227.89999999999998 267.15)" font-size="7.4" font-weight="bold" text-anchor="end" fill="#000">4</text>
<line x1="232" y1="374.8" x2="415.5" y2="374.8" stroke="#484848" stroke-width="1.4"/>
<rect x="247.90" y="351.60" width="16.40" height="23.20" fill="#c7ddf3" stroke="#1f2f44" stroke-width="0.8"/>
<line x1="256.1" y1="349.2" x2="256.1" y2="353.7" stroke="#111" stroke-width="0.75"/>
<line x1="254.65000000000003" y1="349.2" x2="257.55" y2="349.2" stroke="#111" stroke-width="0.85"/>
<line x1="254.65000000000003" y1="353.7" x2="257.55" y2="353.7" stroke="#111" stroke-width="0.85"/>
<rect x="269.90" y="316.60" width="16.60" height="58.20" fill="#5a9fe2" stroke="#17365c" stroke-width="0.8"/>
<line x1="278.2" y1="312" x2="278.2" y2="320" stroke="#111" stroke-width="0.75"/>
<line x1="276.75" y1="312" x2="279.65" y2="312" stroke="#111" stroke-width="0.85"/>
<line x1="276.75" y1="320" x2="279.65" y2="320" stroke="#111" stroke-width="0.85"/>
<rect x="292.30" y="307.40" width="16.60" height="67.40" fill="#0f4c8c" stroke="#06203f" stroke-width="0.8"/>
<line x1="300.6" y1="300" x2="300.6" y2="313.7" stroke="#111" stroke-width="0.75"/>
<line x1="299.15000000000003" y1="300" x2="302.05" y2="300" stroke="#111" stroke-width="0.85"/>
<line x1="299.15000000000003" y1="313.7" x2="302.05" y2="313.7" stroke="#111" stroke-width="0.85"/>
<rect x="338.70" y="341.60" width="16.70" height="33.20" fill="#c8c8c8" stroke="#333" stroke-width="0.8"/>
<line x1="347.05" y1="338" x2="347.05" y2="344.5" stroke="#111" stroke-width="0.75"/>
<line x1="345.6" y1="338" x2="348.5" y2="338" stroke="#111" stroke-width="0.85"/>
<line x1="345.6" y1="344.5" x2="348.5" y2="344.5" stroke="#111" stroke-width="0.85"/>
<rect x="361.00" y="322.90" width="16.40" height="51.90" fill="#808080" stroke="#222" stroke-width="0.8"/>
<line x1="369.20000000000005" y1="315" x2="369.20000000000005" y2="329.5" stroke="#111" stroke-width="0.75"/>
<line x1="367.75000000000006" y1="315" x2="370.65000000000003" y2="315" stroke="#111" stroke-width="0.85"/>
<line x1="367.75000000000006" y1="329.5" x2="370.65000000000003" y2="329.5" stroke="#111" stroke-width="0.85"/>
<rect x="383.40" y="310.90" width="16.40" height="63.90" fill="#232323" stroke="#000" stroke-width="0.8"/>
<line x1="391.6" y1="303" x2="391.6" y2="318" stroke="#111" stroke-width="0.75"/>
<line x1="390.15000000000003" y1="303" x2="393.05" y2="303" stroke="#111" stroke-width="0.85"/>
<line x1="390.15000000000003" y1="318" x2="393.05" y2="318" stroke="#111" stroke-width="0.85"/>
<text x="278" y="309.5" transform="rotate(0.04 278 309.5)" font-size="6" font-weight="bold" text-anchor="middle" fill="#000" stroke="#000" stroke-width="0.25">***</text>
<text x="300.3" y="297.3" transform="rotate(0.04 300.3 297.3)" font-size="6" font-weight="bold" text-anchor="middle" fill="#000" stroke="#000" stroke-width="0.25">***</text>
<text x="369.2" y="313.5" transform="rotate(0.04 369.2 313.5)" font-size="6" font-weight="bold" text-anchor="middle" fill="#000" stroke="#000" stroke-width="0.25">***</text>
<text x="392" y="300.5" transform="rotate(0.04 392 300.5)" font-size="6" font-weight="bold" text-anchor="middle" fill="#000" stroke="#000" stroke-width="0.25">***</text>
<line x1="347" y1="301.2" x2="369.2" y2="301.2" stroke="#7d7d7d" stroke-width="1"/>
<text x="358.2" y="300.4" transform="rotate(0.04 358.2 300.4)" font-size="6" font-weight="bold" text-anchor="middle" fill="#000" stroke="#000" stroke-width="0.25">***</text>
<line x1="347.3" y1="288" x2="391.3" y2="288" stroke="#7d7d7d" stroke-width="1"/>
<text x="370" y="286.8" transform="rotate(0.04 370 286.8)" font-size="6" font-weight="bold" text-anchor="middle" fill="#000" stroke="#000" stroke-width="0.25">***</text>
<line x1="368.2" y1="272.5" x2="390.6" y2="272.5" stroke="#7d7d7d" stroke-width="1"/>
<text x="379.5" y="271.6" transform="rotate(0.04 379.5 271.6)" font-size="6" font-weight="bold" text-anchor="middle" fill="#000" stroke="#000" stroke-width="0.25">*</text>
<text x="32.5" y="401.8" transform="rotate(0.04 32.5 401.8)" font-size="8.65" font-weight="bold" fill="#000">TGFB1</text>
<line x1="30" y1="408" x2="30" y2="521.1" stroke="#111" stroke-width="1.4"/>
<line x1="27.8" y1="520.3" x2="30" y2="520.3" stroke="#111" stroke-width="0.8"/>
<text x="25.8" y="522.9499999999999" transform="rotate(0.04 25.8 522.9499999999999)" font-size="7.4" font-weight="bold" text-anchor="end" fill="#000">0</text>
<line x1="27.8" y1="492.5799999999999" x2="30" y2="492.5799999999999" stroke="#111" stroke-width="0.8"/>
<text x="25.8" y="495.2299999999999" transform="rotate(0.04 25.8 495.2299999999999)" font-size="7.4" font-weight="bold" text-anchor="end" fill="#000">10</text>
<line x1="27.8" y1="464.85999999999996" x2="30" y2="464.85999999999996" stroke="#111" stroke-width="0.8"/>
<text x="25.8" y="467.50999999999993" transform="rotate(0.04 25.8 467.50999999999993)" font-size="7.4" font-weight="bold" text-anchor="end" fill="#000">20</text>
<line x1="27.8" y1="437.14" x2="30" y2="437.14" stroke="#111" stroke-width="0.8"/>
<text x="25.8" y="439.78999999999996" transform="rotate(0.04 25.8 439.78999999999996)" font-size="7.4" font-weight="bold" text-anchor="end" fill="#000">30</text>
<line x1="27.8" y1="409.41999999999996" x2="30" y2="409.41999999999996" stroke="#111" stroke-width="0.8"/>
<text x="25.8" y="412.06999999999994" transform="rotate(0.04 25.8 412.06999999999994)" font-size="7.4" font-weight="bold" text-anchor="end" fill="#000">40</text>
<line x1="29.3" y1="520.4" x2="212.8" y2="520.4" stroke="#111" stroke-width="1.4"/>
<rect x="45.00" y="517.40" width="17.10" height="3.00" fill="#c7ddf3" stroke="#1f2f44" stroke-width="0.8"/>
<line x1="53.55" y1="515" x2="53.55" y2="518.8" stroke="#111" stroke-width="0.75"/>
<line x1="52.099999999999994" y1="515" x2="55.0" y2="515" stroke="#111" stroke-width="0.85"/>
<line x1="52.099999999999994" y1="518.8" x2="55.0" y2="518.8" stroke="#111" stroke-width="0.85"/>
<rect x="67.40" y="496.60" width="16.80" height="23.80" fill="#5a9fe2" stroke="#17365c" stroke-width="0.8"/>
<line x1="75.8" y1="488.2" x2="75.8" y2="505" stroke="#111" stroke-width="0.75"/>
<line x1="74.35" y1="488.2" x2="77.25" y2="488.2" stroke="#111" stroke-width="0.85"/>
<line x1="74.35" y1="505" x2="77.25" y2="505" stroke="#111" stroke-width="0.85"/>
<rect x="89.80" y="489.90" width="16.80" height="30.50" fill="#0f4c8c" stroke="#06203f" stroke-width="0.8"/>
<line x1="98.2" y1="481.2" x2="98.2" y2="498.7" stroke="#111" stroke-width="0.75"/>
<line x1="96.75" y1="481.2" x2="99.65" y2="481.2" stroke="#111" stroke-width="0.85"/>
<line x1="96.75" y1="498.7" x2="99.65" y2="498.7" stroke="#111" stroke-width="0.85"/>
<rect x="136.70" y="498.40" width="16.70" height="22.00" fill="#c8c8c8" stroke="#333" stroke-width="0.8"/>
<line x1="145.05" y1="492.5" x2="145.05" y2="503.7" stroke="#111" stroke-width="0.75"/>
<line x1="143.60000000000002" y1="492.5" x2="146.5" y2="492.5" stroke="#111" stroke-width="0.85"/>
<line x1="143.60000000000002" y1="503.7" x2="146.5" y2="503.7" stroke="#111" stroke-width="0.85"/>
<rect x="159.20" y="461.90" width="16.70" height="58.50" fill="#808080" stroke="#222" stroke-width="0.8"/>
<line x1="167.55" y1="445.5" x2="167.55" y2="477.5" stroke="#111" stroke-width="0.75"/>
<line x1="166.10000000000002" y1="445.5" x2="169.0" y2="445.5" stroke="#111" stroke-width="0.85"/>
<line x1="166.10000000000002" y1="477.5" x2="169.0" y2="477.5" stroke="#111" stroke-width="0.85"/>
<rect x="181.50" y="450.40" width="16.60" height="70.00" fill="#232323" stroke="#000" stroke-width="0.8"/>
<line x1="189.8" y1="435.7" x2="189.8" y2="463.7" stroke="#111" stroke-width="0.75"/>
<line x1="188.35000000000002" y1="435.7" x2="191.25" y2="435.7" stroke="#111" stroke-width="0.85"/>
<line x1="188.35000000000002" y1="463.7" x2="191.25" y2="463.7" stroke="#111" stroke-width="0.85"/>
<line x1="98.7" y1="408.7" x2="189.2" y2="408.7" stroke="#7d7d7d" stroke-width="1"/>
<text x="145.7" y="408.3" transform="rotate(0.04 145.7 408.3)" font-size="6" font-weight="bold" text-anchor="middle" fill="#000" stroke="#000" stroke-width="0.25">***</text>
<line x1="78.7" y1="416.4" x2="168.7" y2="416.4" stroke="#7d7d7d" stroke-width="1"/>
<text x="125" y="416.0" transform="rotate(0.04 125 416.0)" font-size="6" font-weight="bold" text-anchor="middle" fill="#000" stroke="#000" stroke-width="0.25">***</text>
<line x1="145.5" y1="424.5" x2="188.8" y2="424.5" stroke="#7d7d7d" stroke-width="1"/>
<text x="168" y="423.6" transform="rotate(0.04 168 423.6)" font-size="6" font-weight="bold" text-anchor="middle" fill="#000" stroke="#000" stroke-width="0.25">***</text>
<line x1="145.5" y1="435.7" x2="166.8" y2="435.7" stroke="#7d7d7d" stroke-width="1"/>
<text x="156.2" y="434.6" transform="rotate(0.04 156.2 434.6)" font-size="6" font-weight="bold" text-anchor="middle" fill="#000" stroke="#000" stroke-width="0.25">***</text>
<text x="76.2" y="488.0" transform="rotate(0.04 76.2 488.0)" font-size="6" font-weight="bold" text-anchor="middle" fill="#000" stroke="#000" stroke-width="0.25">*</text>
<text x="98" y="481.0" transform="rotate(0.04 98 481.0)" font-size="6" font-weight="bold" text-anchor="middle" fill="#000" stroke="#000" stroke-width="0.25">***</text>
<text x="145" y="489.2" transform="rotate(0.04 145 489.2)" font-size="6" font-weight="bold" text-anchor="middle" fill="#000" stroke="#000" stroke-width="0.25">*</text>
<text x="167.5" y="444.2" transform="rotate(0.04 167.5 444.2)" font-size="6" font-weight="bold" text-anchor="middle" fill="#000" stroke="#000" stroke-width="0.25">***</text>
<text x="190" y="434.7" transform="rotate(0.04 190 434.7)" font-size="6" font-weight="bold" text-anchor="middle" fill="#000" stroke="#000" stroke-width="0.25">***</text>
<text transform="translate(10.3 463.5) rotate(-90)" font-size="9" font-weight="bold" text-anchor="middle" fill="#000">Relative mRNA</text>
<text x="235.8" y="401.8" transform="rotate(0.04 235.8 401.8)" font-size="8.4" font-weight="bold" fill="#000">IGF1</text>
<line x1="232.7" y1="408" x2="232.7" y2="521.1" stroke="#111" stroke-width="1.4"/>
<line x1="230.5" y1="520.3" x2="232.7" y2="520.3" stroke="#111" stroke-width="0.8"/>
<text x="227.89999999999998" y="522.9499999999999" transform="rotate(0.04 227.89999999999998 522.9499999999999)" font-size="7.4" font-weight="bold" text-anchor="end" fill="#000">0</text>
<line x1="230.5" y1="483.19999999999993" x2="232.7" y2="483.19999999999993" stroke="#111" stroke-width="0.8"/>
<text x="227.89999999999998" y="485.8499999999999" transform="rotate(0.04 227.89999999999998 485.8499999999999)" font-size="7.4" font-weight="bold" text-anchor="end" fill="#000">1</text>
<line x1="230.5" y1="446.09999999999997" x2="232.7" y2="446.09999999999997" stroke="#111" stroke-width="0.8"/>
<text x="227.89999999999998" y="448.74999999999994" transform="rotate(0.04 227.89999999999998 448.74999999999994)" font-size="7.4" font-weight="bold" text-anchor="end" fill="#000">2</text>
<line x1="230.5" y1="408.99999999999994" x2="232.7" y2="408.99999999999994" stroke="#111" stroke-width="0.8"/>
<text x="227.89999999999998" y="411.6499999999999" transform="rotate(0.04 227.89999999999998 411.6499999999999)" font-size="7.4" font-weight="bold" text-anchor="end" fill="#000">3</text>
<line x1="232" y1="520.4" x2="416" y2="520.4" stroke="#111" stroke-width="1.4"/>
<rect x="247.90" y="489.90" width="16.70" height="30.50" fill="#c7ddf3" stroke="#1f2f44" stroke-width="0.8"/>
<line x1="256.25" y1="483" x2="256.25" y2="497.5" stroke="#111" stroke-width="0.75"/>
<line x1="254.8" y1="483" x2="257.7" y2="483" stroke="#111" stroke-width="0.85"/>
<line x1="254.8" y1="497.5" x2="257.7" y2="497.5" stroke="#111" stroke-width="0.85"/>
<rect x="269.90" y="456.60" width="16.60" height="63.80" fill="#5a9fe2" stroke="#17365c" stroke-width="0.8"/>
<line x1="278.2" y1="447.5" x2="278.2" y2="464.5" stroke="#111" stroke-width="0.75"/>
<line x1="276.75" y1="447.5" x2="279.65" y2="447.5" stroke="#111" stroke-width="0.85"/>
<line x1="276.75" y1="464.5" x2="279.65" y2="464.5" stroke="#111" stroke-width="0.85"/>
<rect x="292.30" y="460.40" width="16.60" height="60.00" fill="#0f4c8c" stroke="#06203f" stroke-width="0.8"/>
<line x1="300.6" y1="450.7" x2="300.6" y2="469.5" stroke="#111" stroke-width="0.75"/>
<line x1="299.15000000000003" y1="450.7" x2="302.05" y2="450.7" stroke="#111" stroke-width="0.85"/>
<line x1="299.15000000000003" y1="469.5" x2="302.05" y2="469.5" stroke="#111" stroke-width="0.85"/>
<rect x="339.00" y="492.40" width="16.70" height="28.00" fill="#c8c8c8" stroke="#333" stroke-width="0.8"/>
<line x1="347.35" y1="482" x2="347.35" y2="502" stroke="#111" stroke-width="0.75"/>
<line x1="345.90000000000003" y1="482" x2="348.8" y2="482" stroke="#111" stroke-width="0.85"/>
<line x1="345.90000000000003" y1="502" x2="348.8" y2="502" stroke="#111" stroke-width="0.85"/>
<rect x="361.20" y="454.10" width="16.50" height="66.30" fill="#808080" stroke="#222" stroke-width="0.8"/>
<line x1="369.45000000000005" y1="439.2" x2="369.45000000000005" y2="468.2" stroke="#111" stroke-width="0.75"/>
<line x1="368.00000000000006" y1="439.2" x2="370.90000000000003" y2="439.2" stroke="#111" stroke-width="0.85"/>
<line x1="368.00000000000006" y1="468.2" x2="370.90000000000003" y2="468.2" stroke="#111" stroke-width="0.85"/>
<rect x="383.40" y="449.10" width="16.70" height="71.30" fill="#232323" stroke="#000" stroke-width="0.8"/>
<line x1="391.75" y1="430.7" x2="391.75" y2="466.2" stroke="#111" stroke-width="0.75"/>
<line x1="390.3" y1="430.7" x2="393.2" y2="430.7" stroke="#111" stroke-width="0.85"/>
<line x1="390.3" y1="466.2" x2="393.2" y2="466.2" stroke="#111" stroke-width="0.85"/>
<text x="278.7" y="447.2" transform="rotate(0.04 278.7 447.2)" font-size="6" font-weight="bold" text-anchor="middle" fill="#000" stroke="#000" stroke-width="0.25">***</text>
<text x="300.5" y="449.7" transform="rotate(0.04 300.5 449.7)" font-size="6" font-weight="bold" text-anchor="middle" fill="#000" stroke="#000" stroke-width="0.25">**</text>
<text x="370" y="438.0" transform="rotate(0.04 370 438.0)" font-size="6" font-weight="bold" text-anchor="middle" fill="#000" stroke="#000" stroke-width="0.25">***</text>
<text x="391.7" y="429.7" transform="rotate(0.04 391.7 429.7)" font-size="6" font-weight="bold" text-anchor="middle" fill="#000" stroke="#000" stroke-width="0.25">***</text>
<line x1="348.7" y1="426.2" x2="371.2" y2="426.2" stroke="#7d7d7d" stroke-width="1"/>
<text x="360" y="425.5" transform="rotate(0.04 360 425.5)" font-size="6" font-weight="bold" text-anchor="middle" fill="#000" stroke="#000" stroke-width="0.25">***</text>
<line x1="349.5" y1="412.5" x2="393" y2="412.5" stroke="#7d7d7d" stroke-width="1"/>
<text x="371.7" y="411.7" transform="rotate(0.04 371.7 411.7)" font-size="6" font-weight="bold" text-anchor="middle" fill="#000" stroke="#000" stroke-width="0.25">***</text>
<text x="54.6" y="532.6" transform="rotate(0.04 54.6 532.6)" font-size="8.8" font-weight="bold" text-anchor="middle" fill="#000">rest</text>
<text x="76.25" y="532.6" transform="rotate(0.04 76.25 532.6)" font-size="8.8" font-weight="bold" text-anchor="middle" fill="#000">7h</text>
<text x="98.85" y="532.6" transform="rotate(0.04 98.85 532.6)" font-size="8.8" font-weight="bold" text-anchor="middle" fill="#000">10h</text>
<text x="76.6" y="546.8" transform="rotate(0.04 76.6 546.8)" font-size="9.2" font-weight="bold" text-anchor="middle" fill="#000">ESsT-C</text>
<text x="145.7" y="532.6" transform="rotate(0.04 145.7 532.6)" font-size="8.8" font-weight="bold" text-anchor="middle" fill="#000">rest</text>
<text x="168.1" y="532.6" transform="rotate(0.04 168.1 532.6)" font-size="8.8" font-weight="bold" text-anchor="middle" fill="#000">7h</text>
<text x="190.2" y="532.6" transform="rotate(0.04 190.2 532.6)" font-size="8.8" font-weight="bold" text-anchor="middle" fill="#000">10h</text>
<text x="167.8" y="546.8" transform="rotate(0.04 167.8 546.8)" font-size="9.2" font-weight="bold" text-anchor="middle" fill="#000">CTG-F</text>
<text x="256.7" y="532.6" transform="rotate(0.04 256.7 532.6)" font-size="8.8" font-weight="bold" text-anchor="middle" fill="#000">rest</text>
<text x="278.85" y="532.6" transform="rotate(0.04 278.85 532.6)" font-size="8.8" font-weight="bold" text-anchor="middle" fill="#000">7h</text>
<text x="301.15" y="532.6" transform="rotate(0.04 301.15 532.6)" font-size="8.8" font-weight="bold" text-anchor="middle" fill="#000">10h</text>
<text x="280.6" y="546.8" transform="rotate(0.04 280.6 546.8)" font-size="9.2" font-weight="bold" text-anchor="middle" fill="#000">ESsT-C</text>
<text x="348.1" y="532.6" transform="rotate(0.04 348.1 532.6)" font-size="8.8" font-weight="bold" text-anchor="middle" fill="#000">rest</text>
<text x="370.15" y="532.6" transform="rotate(0.04 370.15 532.6)" font-size="8.8" font-weight="bold" text-anchor="middle" fill="#000">7h</text>
<text x="392.65" y="532.6" transform="rotate(0.04 392.65 532.6)" font-size="8.8" font-weight="bold" text-anchor="middle" fill="#000">10h</text>
<text x="372.2" y="546.8" transform="rotate(0.04 372.2 546.8)" font-size="9.2" font-weight="bold" text-anchor="middle" fill="#000">CTG-F</text>
</svg>
</body></html>
